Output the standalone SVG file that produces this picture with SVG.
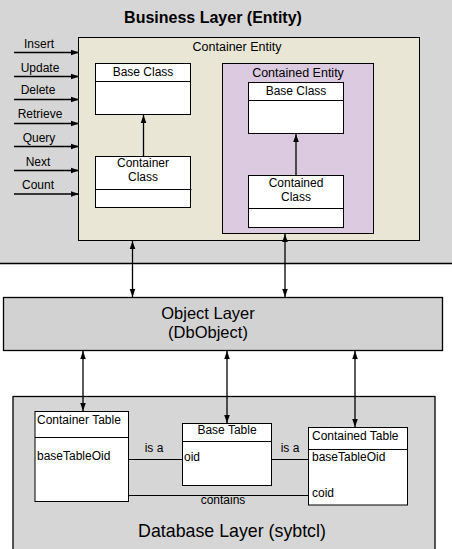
<svg xmlns="http://www.w3.org/2000/svg" width="452" height="549" viewBox="0 0 452 549">
<defs>
<marker id="ah" viewBox="0 0 10 10" refX="10" refY="5" markerWidth="9" markerHeight="8" markerUnits="userSpaceOnUse" orient="auto-start-reverse">
<path d="M0,1.5 L10,5 L0,8.5 Z" fill="#000"/>
</marker>
</defs>
<style>
text{font-family:"Liberation Sans",Arial,sans-serif;fill:#000}
.box{fill:#fff;stroke:#000;stroke-width:1}
.ln{stroke:#000;stroke-width:1;fill:none}
.t{font-size:12px}
.tc{font-size:12px;text-anchor:middle}
.conn{stroke:#000;stroke-width:1.3;fill:none}
</style>
<rect x="0" y="0" width="452" height="549" fill="#fff"/>
<g id="business-layer">
<rect x="0" y="0" width="452" height="263" fill="#d6d6d6"/>
<line x1="0" y1="263.5" x2="452" y2="263.5" stroke="#000" stroke-width="1.3"/>
<text x="213" y="23" font-size="16" font-weight="bold" text-anchor="middle">Business Layer (Entity)</text>
</g>
<g id="container-entity">
<rect x="78.5" y="37.5" width="341" height="203" fill="#e9e6d6" stroke="#000"/>
<text x="237" y="51" font-size="12.5" text-anchor="middle">Container Entity</text>
</g>
<g id="base-class">
<rect class="box" x="95.5" y="63.5" width="95" height="51"/>
<line class="ln" x1="95.5" y1="81.5" x2="190.5" y2="81.5"/>
<text class="tc" x="143" y="76">Base Class</text>
</g>
<g id="container-class">
<rect class="box" x="95.5" y="156.5" width="95" height="51"/>
<line class="ln" x1="95.5" y1="189.5" x2="191.5" y2="189.5"/>
<text class="tc" x="143" y="167">Container</text>
<text class="tc" x="143" y="181">Class</text>
</g>
<g id="contained-entity">
<rect x="222.5" y="63.5" width="151" height="170" fill="#dccbe0" stroke="#000"/>
<text x="298" y="77" font-size="12.5" text-anchor="middle">Contained Entity</text>
</g>
<g id="inner-base-class">
<rect class="box" x="248.5" y="82.5" width="95" height="51"/>
<line class="ln" x1="248.5" y1="100.5" x2="343.5" y2="100.5"/>
<text class="tc" x="296" y="95">Base Class</text>
</g>
<g id="contained-class">
<rect class="box" x="248.5" y="175.5" width="95" height="52"/>
<line class="ln" x1="248.5" y1="208.5" x2="343.5" y2="208.5"/>
<text class="tc" x="296" y="187">Contained</text>
<text class="tc" x="296" y="201">Class</text>
</g>
<g id="operations">
<text class="tc" x="39" y="48">Insert</text>
<text class="tc" x="40" y="72">Update</text>
<text class="tc" x="38" y="94">Delete</text>
<text class="tc" x="40" y="118">Retrieve</text>
<text class="tc" x="39" y="142">Query</text>
<text class="tc" x="38" y="166">Next</text>
<text class="tc" x="38" y="189">Count</text>
</g>
<g id="object-layer">
<rect x="3.5" y="297.5" width="439" height="53" fill="#d2d2d2" stroke="#000" stroke-width="1.3"/>
<text x="208" y="319" font-size="16.5" text-anchor="middle">Object Layer</text>
<text x="208" y="338" font-size="16.5" text-anchor="middle">(DbObject)</text>
</g>
<g id="database-layer">
<rect x="13" y="396.5" width="422" height="160" fill="#d6d6d6" stroke="#000" stroke-width="1.3"/>
<text x="232" y="537" font-size="17.8" text-anchor="middle">Database Layer (sybtcl)</text>
</g>
<g id="container-table">
<rect class="box" x="35" y="411.5" width="93.5" height="90"/>
<line class="ln" x1="35" y1="437.5" x2="128.5" y2="437.5"/>
<text class="t" x="37" y="424">Container Table</text>
<text class="t" x="37" y="460">baseTableOid</text>
</g>
<g id="base-table">
<rect class="box" x="182.5" y="423.5" width="89" height="62"/>
<line class="ln" x1="182.5" y1="441.5" x2="271.5" y2="441.5"/>
<text class="tc" x="227" y="434">Base Table</text>
<text class="t" x="184" y="461">oid</text>
</g>
<g id="contained-table">
<rect class="box" x="308.5" y="427.5" width="99" height="77.5"/>
<line class="ln" x1="308.5" y1="449.5" x2="407.5" y2="449.5"/>
<text class="t" x="312" y="440">Contained Table</text>
<text class="t" x="312" y="461">baseTableOid</text>
<text class="t" x="312" y="497">coid</text>
</g>
<g id="connectors">
<line class="conn" x1="14" y1="52.5" x2="79" y2="52.5" marker-end="url(#ah)"/>
<line class="conn" x1="14" y1="76.5" x2="79" y2="76.5" marker-end="url(#ah)"/>
<line class="conn" x1="14" y1="99.5" x2="79" y2="99.5" marker-end="url(#ah)"/>
<line class="conn" x1="14" y1="123.5" x2="79" y2="123.5" marker-end="url(#ah)"/>
<line class="conn" x1="14" y1="146.5" x2="79" y2="146.5" marker-end="url(#ah)"/>
<line class="conn" x1="14" y1="170.5" x2="79" y2="170.5" marker-end="url(#ah)"/>
<line class="conn" x1="14" y1="194" x2="79" y2="194" marker-end="url(#ah)"/>
<line class="conn" x1="143.5" y1="156" x2="143.5" y2="115" marker-end="url(#ah)"/>
<line class="conn" x1="296" y1="175" x2="296" y2="134" marker-end="url(#ah)"/>
<line class="conn" x1="132.5" y1="241" x2="132.5" y2="297" marker-start="url(#ah)" marker-end="url(#ah)"/>
<line class="conn" x1="285" y1="234" x2="285" y2="297" marker-start="url(#ah)" marker-end="url(#ah)"/>
<line class="conn" x1="83" y1="351" x2="83" y2="411" marker-start="url(#ah)" marker-end="url(#ah)"/>
<line class="conn" x1="227" y1="351" x2="227" y2="423" marker-start="url(#ah)" marker-end="url(#ah)"/>
<line class="conn" x1="355" y1="351" x2="355" y2="427" marker-start="url(#ah)" marker-end="url(#ah)"/>
<line class="ln" x1="128.5" y1="459.5" x2="182.5" y2="459.5"/>
<line class="ln" x1="271.5" y1="459.5" x2="308.5" y2="459.5"/>
<line class="ln" x1="128.5" y1="495.5" x2="308.5" y2="495.5"/>
<text class="tc" x="154" y="452">is a</text>
<text class="tc" x="290" y="452">is a</text>
<text class="tc" x="223" y="504">contains</text>
</g>
</svg>
